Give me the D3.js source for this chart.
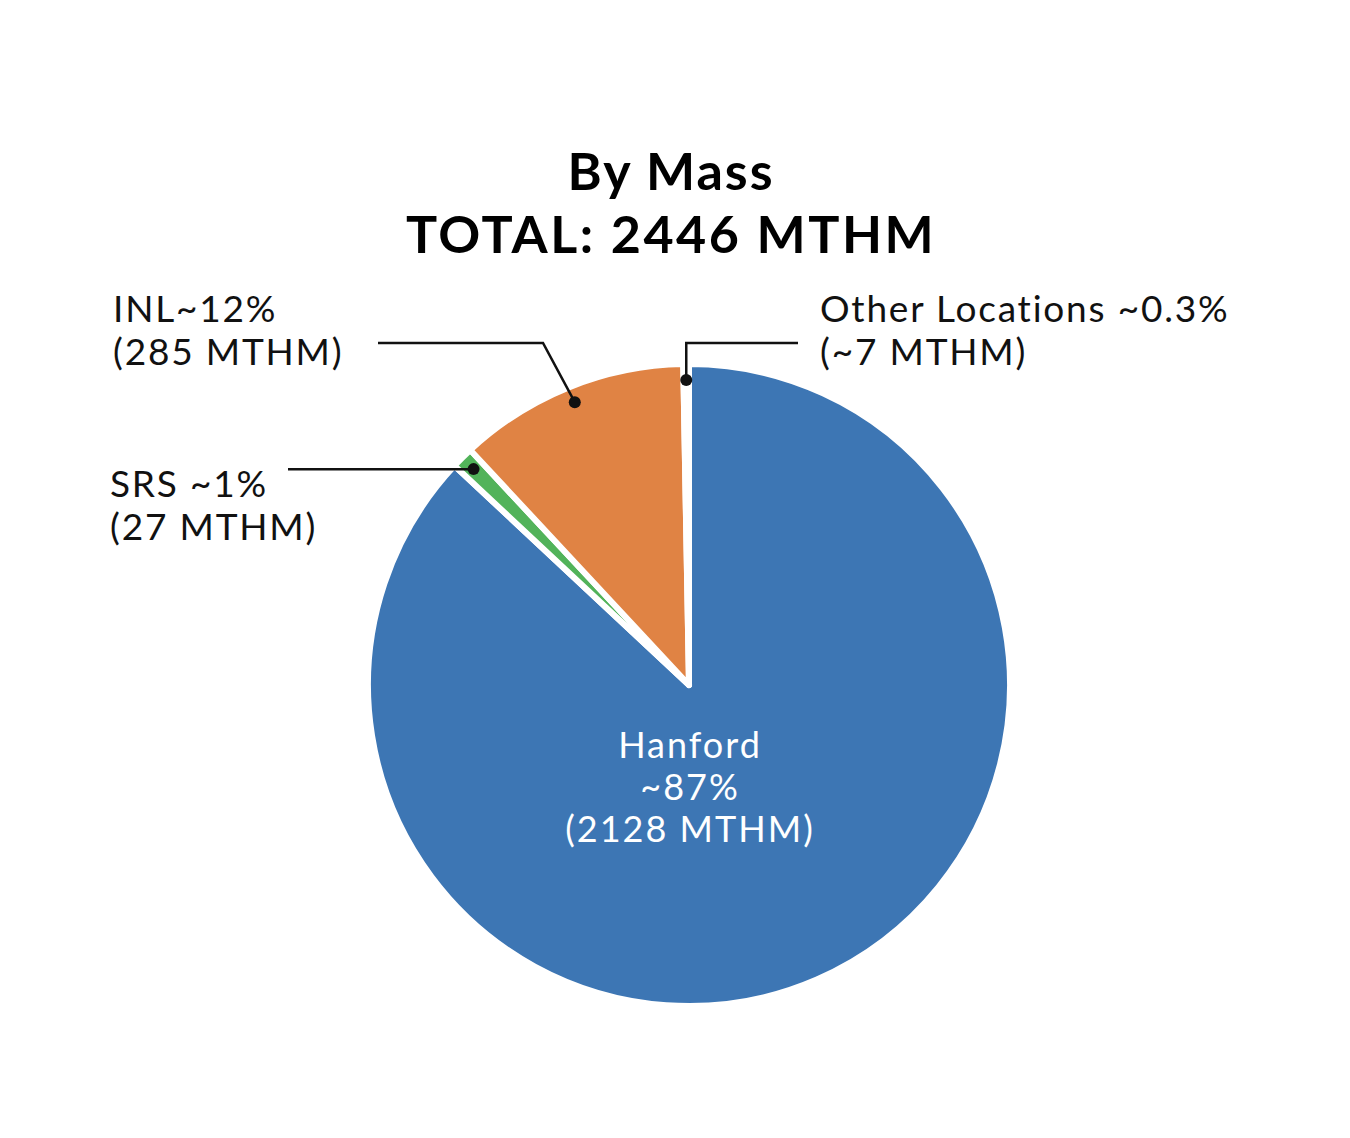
<!DOCTYPE html>
<html>
<head>
<meta charset="utf-8">
<script src="https://cdn.jsdelivr.net/npm/d3@7"></script>
<style>
body { margin: 0; background: #fff; }
text { font-family: "Lato", "Open Sans", sans-serif; }
</style>
</head>
<body>
<svg id="chart" width="1350" height="1138"></svg>
<script>
// data
var sites = ["Hanford", "SRS", "INL", "Other Locations"];
var mass = [2128, 27, 285, 7];
var labelLines = [
	["Hanford", "~87%", "(2128 MTHM)"],
	["SRS ~1%", "(27 MTHM)"],
	["INL~12%", "(285 MTHM)"],
	["Other Locations ~0.3%", "(~7 MTHM)"]
];
var colors = ["#3d76b4", "#52b35a", "#e08344", "#e0e0e0"];

var svg = d3.select("#chart"),
	cx = 689, cy = 685, r = 321;

var g = svg.append("g").attr("transform", "translate(" + cx + "," + cy + ")");

var pie = d3.pie().sort(null).value(function(d){ return d; });
var arcs = pie(mass);
var arc = d3.arc().innerRadius(0).outerRadius(r);
var dotArc = d3.arc().innerRadius(305).outerRadius(305);

g.selectAll("path.slice")
	.data(arcs)
	.enter().append("path")
	.attr("class", "slice")
	.attr("d", arc)
	.attr("fill", function(d, i){ return colors[i]; })
	.attr("stroke", "#fff")
	.attr("stroke-width", 6)
	.attr("stroke-linejoin", "round");

// title
svg.append("text").attr("x", 671).attr("y", 190).attr("text-anchor", "middle")
	.attr("font-size", 52).attr("font-weight", "bold").attr("letter-spacing", 2).text("By Mass");
svg.append("text").attr("x", 671).attr("y", 253).attr("text-anchor", "middle")
	.attr("font-size", 52).attr("font-weight", "bold").attr("letter-spacing", 2.5).text("TOTAL: 2446 MTHM");

// hanford label inside
var hl = svg.append("text").attr("text-anchor", "middle").attr("fill", "#fff")
	.attr("font-size", 36).attr("letter-spacing", 2);
labelLines[0].forEach(function(t, j){
	hl.append("tspan").attr("x", 690).attr("y", 758 + j * 42).text(t);
});

// outside labels: elbow y, line end, text position
var callouts = [
	null,
	{ i: 1, elbowY: 480, endX: 288, tx: 110, ty: 497 },
	{ i: 2, elbowY: 343, endX: 378, elbowX: 543, tx: 113, ty: 322 },
	{ i: 3, elbowY: 343, endX: 798, tx: 820, ty: 322 }
];

callouts.forEach(function(c){
	if (!c) return;
	var p = dotArc.centroid(arcs[c.i]);
	var px = p[0] + cx, py = p[1] + cy;
	var pts;
	if (c.elbowX !== undefined) pts = [[px, py], [c.elbowX, c.elbowY], [c.endX, c.elbowY]];
	else if (Math.abs(py - c.elbowY) < 15) pts = [[px, py], [c.endX, py]];
	else pts = [[px, py], [px, c.elbowY], [c.endX, c.elbowY]];
	svg.append("path").attr("d", d3.line()(pts))
		.attr("fill", "none").attr("stroke", "#111").attr("stroke-width", 2.5);
	svg.append("circle").attr("cx", px).attr("cy", py).attr("r", 6).attr("fill", "#111");
	var t = svg.append("text").attr("font-size", 37).attr("letter-spacing", 1.8).attr("fill", "#111");
	labelLines[c.i].forEach(function(s, j){
		t.append("tspan").attr("x", c.tx).attr("y", c.ty + j * 43).text(s);
	});
});
</script>
</body>
</html>
